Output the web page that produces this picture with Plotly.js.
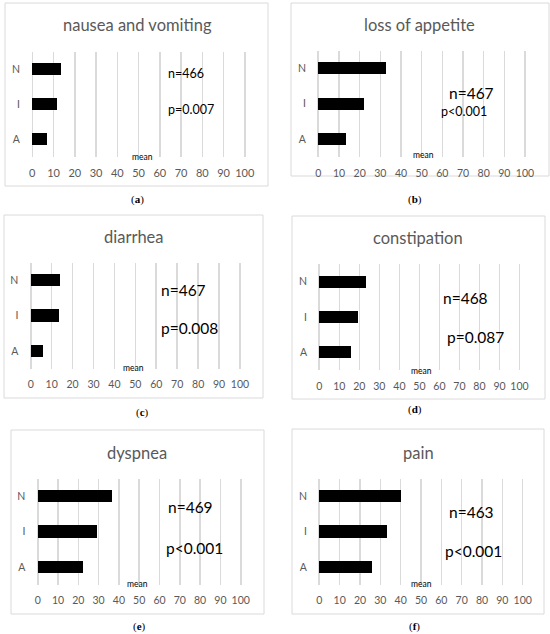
<!DOCTYPE html>
<html><head><meta charset="utf-8">
<script src="https://cdn.plot.ly/plotly-3.0.1.min.js"></script>
<style>html,body{margin:0;padding:0;background:#fff}</style>
</head><body><div id="chart" style="width:550px;height:634px"></div>
<script>
// ---- data ----
const groups = ["A", "I", "N"];
const panelTitles = ["nausea and vomiting", "loss of appetite", "diarrhea", "constipation", "dyspnea", "pain"];
const panelLetters = ["a", "b", "c", "d", "e", "f"];
const nLabels = ["n=466", "n=467", "n=467", "n=468", "n=469", "n=463"];
const pLabels = ["p=0.007", "p<0.001", "p=0.008", "p=0.087", "p<0.001", "p<0.001"];
const meanNausea = [6.7, 11.5, 13.5];
const meanAppetite = [13.2, 22.0, 32.6];
const meanDiarrhea = [6.0, 13.7, 14.2];
const meanConstipation = [16.0, 19.2, 23.5];
const meanDyspnea = [22.5, 29.4, 36.5];
const meanPain = [25.8, 33.1, 40.0];
const xTickVals = [0, 10, 20, 30, 40, 50, 60, 70, 80, 90, 100];
const axisLabel = "mean";

const series = [meanNausea, meanAppetite, meanDiarrhea, meanConstipation, meanDyspnea, meanPain];

// ---- geometry (pixels in the 550x634 page) ----
const W = 550, H = 634;
const geo = [
  {box:[5,3,268,186],   plot:[32.3,244.8,51.5,157], title:[137,25],  n:[166,74,12.5],  p:[166,109,12.5], mean:[142,157], cap:[137,199], tf:11},
  {box:[291,3,549,176], plot:[318.3,525,50.5,157],  title:[419,25],  n:[447,93,15.5],  p:[439,111,12.5], mean:[423,155], cap:[415,199], tf:10.5},
  {box:[4,215,263,398], plot:[30.7,240,262.5,368.5],title:[134,237], n:[159,290,15.5], p:[159,328,15.5], mean:[133,368], cap:[142,412], tf:10.5},
  {box:[292,216,545,399],plot:[319.3,519.5,264,370],title:[418,238], n:[441,298,15.5], p:[445,337,15.5], mean:[422,371], cap:[415,409], tf:10.5},
  {box:[11,430,264,614],plot:[37.7,240.7,478.5,584.5],title:[137,453],n:[166,507,15.5],p:[164,548,15.5], mean:[137,584], cap:[140,626], tf:10.5},
  {box:[292,429,544,614],plot:[319.3,522.7,478.5,584.5],title:[418,453],n:[447,512,15.5],p:[443,551,15.5],mean:[422,584], cap:[414,626], tf:10.5}
];
const px = x => x / W;
const py = y => 1 - y / H;
const PAD = 0.6; // data-unit padding so edge gridlines (0 and 100) are drawn

const FONT = "Lato, 'Open Sans', sans-serif";
const GRAY = "#595959";
const GRID = "#dadada";

const data = [];
const layout = {
  width: W, height: H,
  margin: {l:0, r:0, t:0, b:0},
  paper_bgcolor: "#fff", plot_bgcolor: "rgba(0,0,0,0)",
  showlegend: false,
  bargap: 0,
  shapes: [], annotations: []
};

series.forEach((vals, i) => {
  const g = geo[i];
  const k = i === 0 ? "" : String(i + 1);
  const s = (g.plot[1] - g.plot[0]) / 100;
  data.push({
    type: "bar", orientation: "h",
    x: vals, y: groups,
    xaxis: "x" + k, yaxis: "y" + k,
    width: 0.34,
    marker: {color: "#000", line: {width: 0}},
    hoverinfo: "x+y"
  });
  layout["xaxis" + k] = {
    domain: [px(g.plot[0] - PAD * s), px(g.plot[1] + PAD * s)],
    anchor: "y" + k,
    range: [-PAD, 100 + PAD],
    tickmode: "array", tickvals: xTickVals,
    showgrid: true, gridcolor: GRID, gridwidth: 1.6,
    zeroline: false, showline: false,
    ticks: "outside", ticklen: 6, tickcolor: "rgba(0,0,0,0)",
    tickfont: {family: FONT, size: g.tf, color: GRAY},
    fixedrange: true
  };
  layout["yaxis" + k] = {
    domain: [py(g.plot[3]), py(g.plot[2])],
    anchor: "x" + k,
    type: "category", categoryorder: "array", categoryarray: groups,
    range: [-0.5, 2.5],
    showgrid: false, zeroline: false, showline: false,
    ticks: "outside", ticklen: 8, tickcolor: "rgba(0,0,0,0)",
    tickfont: {family: FONT, size: 10.5, color: GRAY},
    fixedrange: true
  };
  layout.shapes.push({
    type: "rect", xref: "paper", yref: "paper",
    x0: px(g.box[0]), x1: px(g.box[2]), y0: py(g.box[3]), y1: py(g.box[1]),
    line: {color: GRID, width: 1}, fillcolor: "rgba(0,0,0,0)", layer: "below"
  });
  const ann = (text, x, y, size, opts) => layout.annotations.push(Object.assign({
    text: text, xref: "paper", yref: "paper", x: px(x), y: py(y),
    xanchor: "left", yanchor: "middle", showarrow: false,
    font: {family: FONT, size: size, color: "#000"}
  }, opts || {}));
  ann(panelTitles[i], g.title[0], g.title[1], 16.5, {xanchor: "center", font: {family: FONT, size: 16.5, color: GRAY}});
  ann(nLabels[i], g.n[0], g.n[1], g.n[2]);
  ann(pLabels[i], g.p[0], g.p[1], g.p[2]);
  ann(axisLabel, g.mean[0], g.mean[1], 8.5, {xanchor: "center"});
  ann("(<b>" + panelLetters[i] + "</b>)", g.cap[0], g.cap[1], 11,
      {xanchor: "center", font: {family: "'Liberation Serif', 'DejaVu Serif', serif", size: 11, color: "#000"}});
});

Plotly.newPlot("chart", data, layout, {displayModeBar: false, staticPlot: true});
</script>
</body></html>
